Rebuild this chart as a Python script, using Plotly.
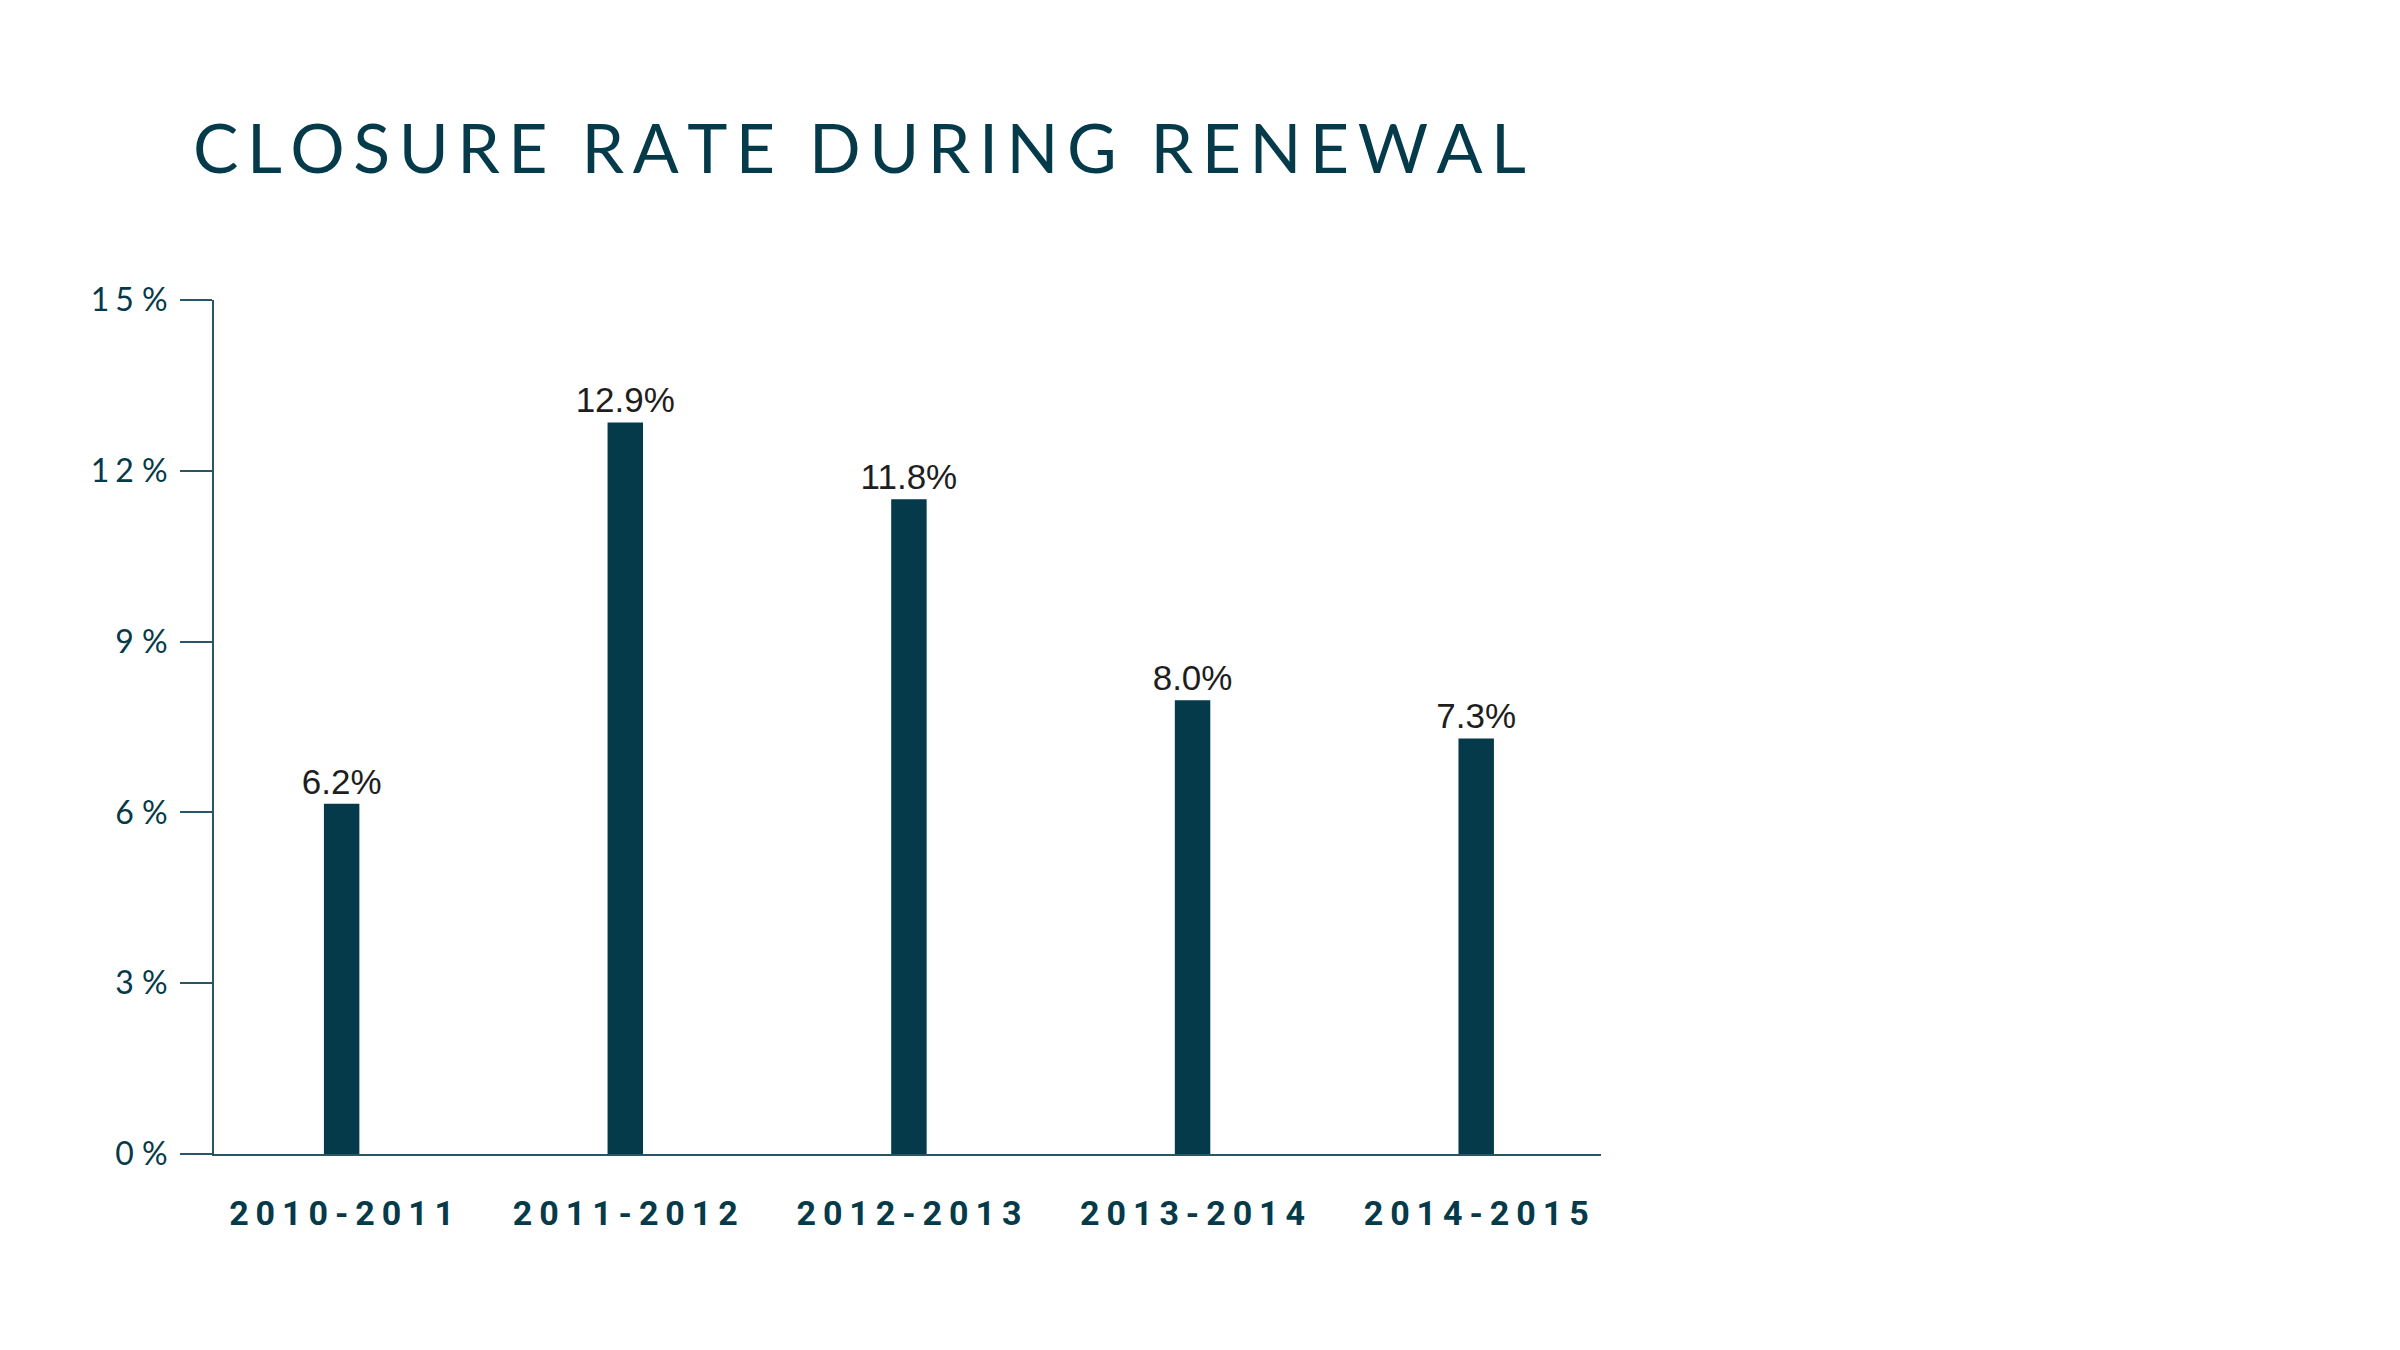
import plotly.graph_objects as go

# closure rate per school year (bar heights, labels as printed)
periods = ["2010-2011", "2011-2012", "2012-2013", "2013-2014", "2014-2015"]
rates = [6.15, 12.85, 11.5, 7.97, 7.3]
rate_labels = ["6.2%", "12.9%", "11.8%", "8.0%", "7.3%"]

y_ticks = [0, 3, 6, 9, 12, 15]
y_tick_labels = ["0 %", "3 %", "6 %", "9 %", "1\u2009\u200a2 %", "1\u2009\u200a5 %"]

TEAL = "#053a4a"

def spaced(s, sep):
    # poor man's letter-spacing
    return sep.join(list(s))

x_tick_labels = [spaced(p, "\u2009") for p in periods]
title_text = "\u2002".join(spaced(w, "\u200a\u200a") for w in "CLOSURE RATE DURING RENEWAL".split())

fig = go.Figure()
fig.add_trace(go.Bar(
    x=periods,
    y=rates,
    width=0.125,
    marker=dict(color=TEAL, line=dict(width=0)),
    text=rate_labels,
    textposition="outside",
    constraintext="none",
    cliponaxis=False,
    textfont=dict(family="Liberation Sans, Arial", size=35, color="#1e1e1e"),
    hoverinfo="skip",
))

fig.update_layout(
    width=2400, height=1350,
    paper_bgcolor="white", plot_bgcolor="white",
    margin=dict(l=206, r=807, t=292, b=204),
    showlegend=False,
    title=dict(
        text=title_text,
        x=185 / 2400, xanchor="left", xref="container",
        y=1 - 141 / 1350, yanchor="middle", yref="container",
        font=dict(family="Lato", size=68, color=TEAL),
    ),
)

fig.update_xaxes(
    range=[-0.45, 4.44],
    tickvals=periods, ticktext=x_tick_labels,
    showline=True, linecolor="#2a5566", linewidth=2,
    showgrid=False, zeroline=False, ticks="",
    ticklabelstandoff=28,
    tickfont=dict(family="Roboto", size=34, color=TEAL, weight="bold"),
)
fig.update_yaxes(
    range=[0, 15],
    tickvals=y_ticks, ticktext=y_tick_labels,
    showline=True, linecolor="#2a5566", linewidth=2,
    showgrid=False, zeroline=False,
    ticks="outside", ticklen=32, tickwidth=2, tickcolor="#2a5566",
    ticklabelstandoff=6,
    tickfont=dict(family="Lato", size=32, color=TEAL),
)

fig.write_html("out.html")
